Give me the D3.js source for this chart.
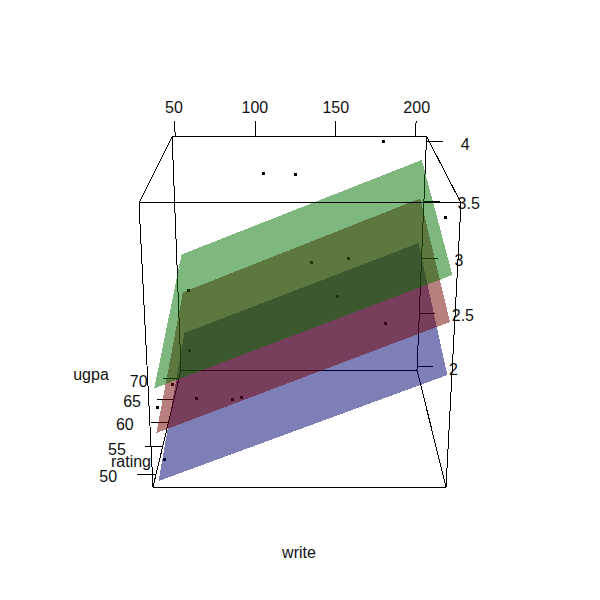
<!DOCTYPE html>
<html>
<head>
<meta charset="utf-8">
<script src="https://cdn.jsdelivr.net/npm/d3@7"></script>
<style>
    body { margin: 0; background: white; }
    text { font-family: "Liberation Sans", Arial, sans-serif; font-size: 16px; fill: #111; }
</style>
</head>
<body>
<div id="wrapper"></div>
<script>
// observations
const writeValues  = [179.1, 105.1, 124.8, 204.8, 134.5, 156.2, 61.9, 149.1, 179.1, 57.1, 53.0, 67.6, 50.1, 87.0, 94.2, 53.7]
const ratingValues = [71.0, 69.8, 67.4, 54.0, 65.0, 62.5, 61.2, 58.8, 62.5, 67.4, 57.6, 56.3, 50.2, 60.0, 55.1, 49.0]
const ugpaValues   = [4.03, 3.79, 3.83, 3.80, 3.17, 3.27, 3.05, 3.07, 2.73, 2.33, 2.39, 2.33, 2.50, 2.17, 2.38, 2.14]

// ticks
const writeTicks = [50, 100, 150, 200]
const ratingTicks = [50, 55, 60, 65, 70]
const ugpaTicks = [2, 2.5, 3, 3.5, 4]

// axis limits of the box
const writeRange = [48.1, 206.9]
const ratingRange = [47.76, 72.26]
const ugpaRange = [1.97, 4.045]

// fitted planes, corners go front left, front right, back right, back left
const planeWrite = [51.3, 204.5, 204.5, 51.3]
const planeRating = [47.76, 47.76, 72.26, 72.26]
const blueUgpa = [2.018, 2.835, 3.136, 2.321]
const redUgpa = [2.395, 3.223, 3.524, 2.696]
const greenUgpa = [2.735, 3.555, 3.85, 3.035]

const width = 600
const height = 600

const uScale = d3.scaleLinear().domain(writeRange).range([0, 1])
const tScale = d3.scaleLinear().domain(ratingRange).range([0, 1])
const wScale = d3.scaleLinear().domain(ugpaRange).range([0, 1])

// perspective camera, works on 0-1 box coordinates
const projectBox = (u, t, w) => {
    const d = 1 + 0.2415 * t - 0.09 * w
    return [
        (153 + 293 * u + 71.7 * t - 26.5 * w) / d,
        (487 - 27.6 * t - 302.3 * w) / d,
    ]
}
const project = (write, rating, ugpa) => projectBox(uScale(write), tScale(rating), wScale(ugpa))

const wrapper = d3.select("#wrapper")
    .append("svg")
    .attr("width", width)
    .attr("height", height)

const edge = (g, a, b) => g.append("line")
    .attr("x1", a[0]).attr("y1", a[1])
    .attr("x2", b[0]).attr("y2", b[1])
    .attr("stroke", "black")
    .attr("stroke-width", 1)
    .attr("shape-rendering", "crispEdges")

const label = (p, txt, anchor) => wrapper.append("text")
    .attr("x", p[0])
    .attr("y", p[1])
    .attr("dy", "0.48em")
    .attr("text-anchor", anchor)
    .text(txt)

// back of the box and ticks, these sit under the planes
const back = wrapper.append("g")
edge(back, projectBox(0, 1, 1), projectBox(1, 1, 1))
edge(back, projectBox(0, 1, 1), projectBox(0, 1, 0))
edge(back, projectBox(1, 1, 1), projectBox(1, 1, 0))
edge(back, projectBox(0, 1, 0), projectBox(1, 1, 0))
edge(back, projectBox(0, 0, 0), projectBox(0, 1, 0))
edge(back, projectBox(1, 0, 0), projectBox(1, 1, 0))
edge(back, projectBox(0, 0, 1), projectBox(0, 1, 1))
edge(back, projectBox(1, 0, 1), projectBox(1, 1, 1))

writeTicks.forEach(d => {
    edge(back, projectBox(uScale(d), 1, 1), projectBox(uScale(d), 1, 1.06))
    label(projectBox(uScale(d), 1, 1.1234), d, "middle")
})
ratingTicks.forEach(d => {
    edge(back, projectBox(0, tScale(d), 0), projectBox(-0.066, tScale(d), 0))
    label(projectBox(-0.167, tScale(d), 0), d, "middle")
})
ugpaTicks.forEach(d => {
    edge(back, projectBox(1, 1, wScale(d)), projectBox(1.066, 1, wScale(d)))
    label(projectBox(1.135, 1, wScale(d)), d, "start")
})

// points
wrapper.append("g")
    .selectAll("rect")
    .data(writeValues.map((d, i) => project(d, ratingValues[i], ugpaValues[i])))
    .join("rect")
    .attr("x", d => Math.round(d[0]) - 1)
    .attr("y", d => Math.round(d[1]) - 1)
    .attr("width", 3)
    .attr("height", 3)
    .attr("fill", "black")

// planes
const planeLine = d3.line()
const planes = [
    { ugpa: blueUgpa, color: "#000071" },
    { ugpa: redUgpa, color: "#710000" },
    { ugpa: greenUgpa, color: "#007100" },
]
wrapper.append("g")
    .selectAll("path")
    .data(planes)
    .join("path")
    .attr("d", d => planeLine(d.ugpa.map((z, i) => project(planeWrite[i], planeRating[i], z))) + "Z")
    .attr("fill", d => d.color)
    .attr("fill-opacity", 0.5)
    .attr("shape-rendering", "crispEdges")

// front of the box goes on top
const front = wrapper.append("g")
edge(front, projectBox(0, 0, 0), projectBox(1, 0, 0))
edge(front, projectBox(0, 0, 1), projectBox(1, 0, 1))
edge(front, projectBox(0, 0, 0), projectBox(0, 0, 1))
edge(front, projectBox(1, 0, 0), projectBox(1, 0, 1))

// axis titles
label([299, 550.5], "write", "middle")
label([91, 372.5], "ugpa", "middle")
label([131, 459], "rating", "middle")
</script>
</body>
</html>
